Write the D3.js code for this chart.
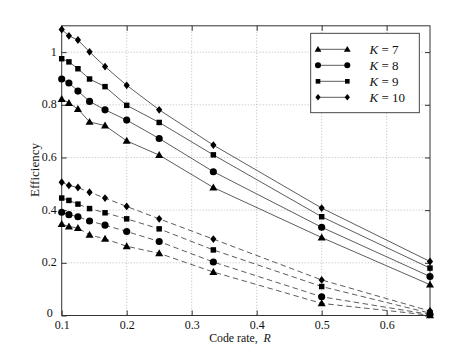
<!DOCTYPE html>
<html><head><meta charset="utf-8">
<script src="https://cdn.jsdelivr.net/npm/d3@7"></script>
<style>body{margin:0;background:#fff}svg{display:block}</style>
</head><body><svg id="c" width="474" height="355"></svg>
<script>
const rates = [1/10, 1/9, 1/8, 1/7, 1/6, 1/5, 1/4, 1/3, 1/2, 2/3];
const kLabels = ["7", "8", "9", "10"];
const markers = ["triangle", "circle", "square", "diamond"];
// solid curves
const solidK7  = [0.822, 0.807, 0.784, 0.735, 0.721, 0.663, 0.609, 0.486, 0.296, 0.117];
const solidK8  = [0.898, 0.883, 0.852, 0.813, 0.781, 0.742, 0.672, 0.546, 0.335, 0.148];
const solidK9  = [0.975, 0.963, 0.937, 0.898, 0.869, 0.798, 0.733, 0.610, 0.375, 0.180];
const solidK10 = [1.086, 1.062, 1.046, 1.001, 0.945, 0.874, 0.781, 0.647, 0.408, 0.205];
// dashed curves
const dashK7  = [0.347, 0.338, 0.332, 0.306, 0.291, 0.263, 0.236, 0.165, 0.046, 0.001];
const dashK8  = [0.392, 0.383, 0.375, 0.359, 0.343, 0.319, 0.281, 0.203, 0.071, 0.004];
const dashK9  = [0.446, 0.437, 0.423, 0.406, 0.390, 0.367, 0.329, 0.249, 0.110, 0.009];
const dashK10 = [0.506, 0.494, 0.486, 0.468, 0.446, 0.414, 0.367, 0.290, 0.135, 0.017];
const xTicks = [0.1, 0.2, 0.3, 0.4, 0.5, 0.6];
const yTicks = [0, 0.2, 0.4, 0.6, 0.8, 1];

const solid = [solidK7, solidK8, solidK9, solidK10];
const dashed = [dashK7, dashK8, dashK9, dashK10];

const FONT = '"Liberation Serif", "Times New Roman", serif';
const svg = d3.select("#c");
const L = 61.7, R = 430, T = 25.8, B = 315.5;
const x = d3.scaleLinear().domain([0.1, 2/3]).range([L, R]);
const y = d3.scaleLinear().domain([0, 1.1]).range([B, T]);

// grid
const g = svg.append("g");
g.selectAll(".gx").data(xTicks.slice(1)).enter().append("line")
  .attr("x1", d => x(d)).attr("x2", d => x(d)).attr("y1", T).attr("y2", B)
  .attr("stroke", "#aaa").attr("stroke-width", 0.8).attr("stroke-dasharray", "1,2");
g.selectAll(".gy").data(yTicks.slice(1)).enter().append("line")
  .attr("y1", d => y(d)).attr("y2", d => y(d)).attr("x1", L).attr("x2", R)
  .attr("stroke", "#aaa").attr("stroke-width", 0.8).attr("stroke-dasharray", "1,2");

// axes (ticks inward on all sides)
const fmt = d => d === 0 ? "0" : (d === 1 ? "1" : d3.format(".1f")(d));
const ax = (a) => a.tickSizeInner(-5).tickSizeOuter(0).tickFormat(fmt);
const xb = svg.append("g").attr("transform", `translate(0,${B})`).call(ax(d3.axisBottom(x).tickValues(xTicks)).tickPadding(4.5));
const xt = svg.append("g").attr("transform", `translate(0,${T})`).call(ax(d3.axisTop(x).tickValues(xTicks)).tickFormat(""));
const yl = svg.append("g").attr("transform", `translate(${L},0)`).call(ax(d3.axisLeft(y).tickValues(yTicks)).tickPadding(5));
const yr = svg.append("g").attr("transform", `translate(${R},0)`).call(ax(d3.axisRight(y).tickValues(yTicks)).tickFormat(""));
[xb, xt, yl, yr].forEach(a => {
  a.attr("font-family", FONT).attr("font-size", 12);
  a.select(".domain").remove();
  a.selectAll("line").attr("stroke", "#333");
  a.selectAll("text").attr("fill", "#111");
});
yl.selectAll("text").attr("dy", "0.25em");
yl.selectAll("text").filter(d => d === 0).attr("x", -9).attr("dy", "0.1em");
svg.append("rect").attr("x", L).attr("y", T).attr("width", R - L).attr("height", B - T)
  .attr("fill", "none").attr("stroke", "#333").attr("stroke-width", 1);

// markers
function symPath(type, s) {
  if (type === "diamond") {
    const w = 3.1 * s, h = 3.9 * s;
    return `M0,${-h}L${w},0L0,${h}L${-w},0Z`;
  }
  const t = {triangle: d3.symbolTriangle, circle: d3.symbolCircle, square: d3.symbolSquare}[type];
  const size = {triangle: 28, circle: 40, square: 30}[type];
  return d3.symbol().type(t).size(size * s * s)();
}
function drawMarker(sel, type, cx, cy, s = 1) {
  sel.append("path").attr("d", symPath(type, s)).attr("fill", "#000")
    .attr("transform", `translate(${cx},${type === "triangle" ? cy + 0.6 : cy})`);
}

const line = d3.line().x((d, i) => x(rates[i])).y(d => y(d));
const plot = svg.append("g");
solid.forEach(s => {
  plot.append("path").attr("d", line(s)).attr("fill", "none").attr("stroke", "#4a4a4a").attr("stroke-width", 0.9);
});
dashed.forEach(s => {
  plot.append("path").attr("d", line(s)).attr("fill", "none").attr("stroke", "#4a4a4a").attr("stroke-width", 0.9).attr("stroke-dasharray", "5.5,3.5");
});
solid.forEach((s, k) => s.forEach((v, i) => drawMarker(plot, markers[k], x(rates[i]), y(v))));
dashed.forEach((s, k) => s.forEach((v, i) => drawMarker(plot, markers[k], x(rates[i]), y(v))));

// legend
const lg = svg.append("g");
lg.append("rect").attr("x", 310.7).attr("y", 33.3).attr("width", 108.6).attr("height", 79.4)
  .attr("fill", "#fff").attr("stroke", "#333").attr("stroke-width", 0.9);
kLabels.forEach((k, i) => {
  const yy = 49.3 + i * 16;
  lg.append("line").attr("x1", 318).attr("x2", 347.3).attr("y1", yy).attr("y2", yy).attr("stroke", "#4a4a4a").attr("stroke-width", 0.9);
  drawMarker(lg, markers[i], 318, yy, 0.85);
  drawMarker(lg, markers[i], 347.3, yy, 0.85);
  const t = lg.append("text").attr("x", 369.5).attr("y", yy + 4.5)
    .attr("font-family", FONT).attr("font-size", 13).attr("fill", "#111");
  t.append("tspan").attr("font-style", "italic").text("K");
  t.append("tspan").text(" = " + k);
});

// axis labels
const xl = svg.append("text").attr("x", 240).attr("y", 341.5).attr("text-anchor", "middle")
  .attr("font-family", FONT).attr("font-size", 11.8).attr("fill", "#111");
xl.append("tspan").text("Code rate,\u2002");
xl.append("tspan").attr("font-style", "italic").text("R");
svg.append("text").attr("transform", "translate(39,170) rotate(-90)").attr("text-anchor", "middle")
  .attr("font-family", FONT).attr("font-size", 13).attr("fill", "#111").text("Efficiency");
</script></body></html>
